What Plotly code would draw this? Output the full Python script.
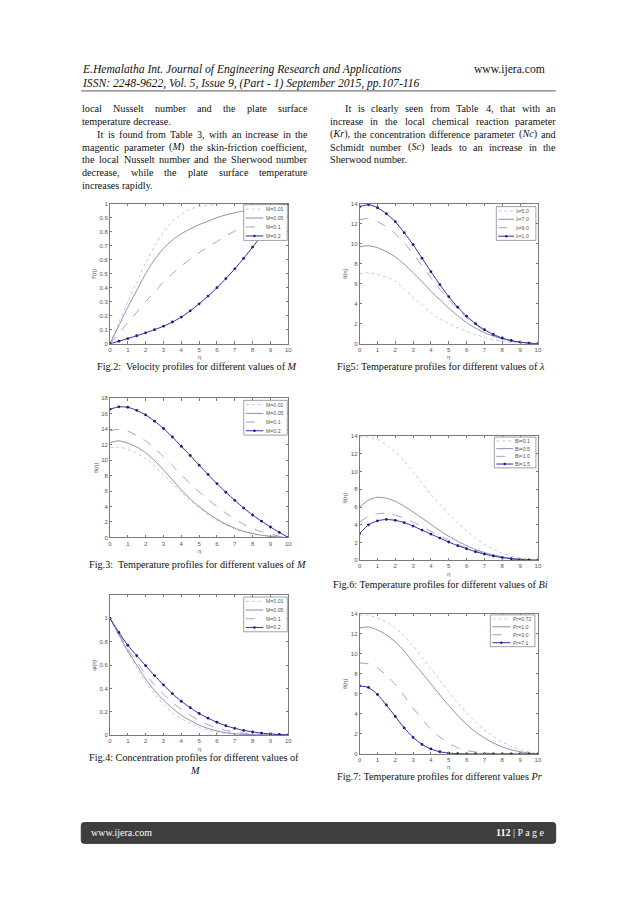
import plotly.graph_objects as go

W, H = 638, 902

# ---------------- data ----------------
ETA = [0, 0.5, 1, 1.5, 2, 2.5, 3, 3.5, 4, 4.5, 5, 5.5, 6, 6.5, 7, 7.5, 8, 8.5, 9, 9.5, 10]
X_TICKS = [0, 1, 2, 3, 4, 5, 6, 7, 8, 9, 10]

# Fig.2 velocity f'(eta), M
FIG2_LABELS = ["M=0.01", "M=0.05", "M=0.1", "M=0.2"]
F_M001 = [0, 0.155, 0.30, 0.44, 0.575, 0.695, 0.80, 0.875, 0.925, 0.96, 0.98, 0.99, 0.996, 1, 1, 1, 1, 1, 1, 1, 1]
F_M005 = [0, 0.13, 0.26, 0.38, 0.50, 0.60, 0.68, 0.74, 0.785, 0.82, 0.85, 0.875, 0.90, 0.92, 0.935, 0.948, 0.96, 0.97, 0.98, 0.99, 1.0]
F_M01 = [0, 0.075, 0.15, 0.225, 0.30, 0.37, 0.44, 0.50, 0.555, 0.605, 0.65, 0.69, 0.73, 0.77, 0.805, 0.84, 0.87, 0.90, 0.93, 0.96, 0.99]
F_M02 = [0, 0.018, 0.037, 0.057, 0.078, 0.10, 0.125, 0.155, 0.19, 0.235, 0.285, 0.34, 0.40, 0.465, 0.535, 0.61, 0.69, 0.77, 0.845, 0.92, 1.0]
FIG2_YTICKS = [0, 0.1, 0.2, 0.3, 0.4, 0.5, 0.6, 0.7, 0.8, 0.9, 1]

# Fig5 temperature theta(eta), lambda
FIG5_LABELS = ["λ=5.0", "λ=7.0", "λ=9.0", "λ=1.0"]
T_L5 = [7.0, 7.1, 6.95, 6.65, 6.25, 5.5, 4.65, 3.85, 3.1, 2.5, 2.0, 1.6, 1.25, 0.92, 0.65, 0.42, 0.25, 0.13, 0.06, 0.02, 0]
T_L7 = [9.7, 9.8, 9.6, 9.2, 8.7, 7.95, 7.1, 6.2, 5.25, 4.4, 3.55, 2.8, 2.1, 1.55, 1.1, 0.75, 0.48, 0.28, 0.14, 0.05, 0]
T_L9 = [12.4, 12.5, 12.2, 11.7, 11.0, 10.1, 9.0, 7.8, 6.6, 5.45, 4.4, 3.45, 2.6, 1.9, 1.3, 0.85, 0.52, 0.30, 0.15, 0.05, 0]
T_L1 = [13.7, 13.9, 13.6, 13.0, 12.2, 11.1, 9.9, 8.55, 7.2, 5.9, 4.7, 3.65, 2.75, 2.0, 1.4, 0.92, 0.57, 0.32, 0.16, 0.06, 0]
FIG5_YTICKS = [0, 2, 4, 6, 8, 10, 12, 14]

# Fig.3 temperature theta(eta), M
FIG3_LABELS = ["M=0.01", "M=0.05", "M=0.1", "M=0.2"]
T_M001 = [11.6, 11.7, 11.4, 10.9, 10.2, 9.25, 8.1, 6.95, 5.8, 4.75, 3.8, 2.95, 2.2, 1.6, 1.1, 0.72, 0.45, 0.25, 0.12, 0.04, 0]
T_M005 = [12.3, 12.5, 12.2, 11.7, 10.95, 9.95, 8.75, 7.45, 6.15, 5.0, 4.0, 3.1, 2.35, 1.72, 1.2, 0.8, 0.5, 0.28, 0.14, 0.05, 0]
T_M01 = [13.8, 14.0, 13.75, 13.2, 12.5, 11.55, 10.45, 9.3, 8.1, 6.95, 5.9, 4.9, 4.0, 3.15, 2.35, 1.7, 1.15, 0.72, 0.40, 0.16, 0]
T_M02 = [16.6, 16.9, 16.85, 16.45, 15.85, 15.05, 14.1, 13.0, 11.8, 10.6, 9.35, 8.15, 6.95, 5.85, 4.8, 3.8, 2.9, 2.1, 1.35, 0.65, 0]
FIG3_YTICKS = [0, 2, 4, 6, 8, 10, 12, 14, 16, 18]

# Fig.6 temperature theta(eta), Bi
FIG6_LABELS = ["Bi=0.1", "Bi=0.5", "Bi=1.0", "Bi=1.5"]
T_B01 = [13.9, 13.9, 13.6, 13.0, 12.2, 11.2, 9.95, 8.7, 7.4, 6.3, 5.2, 4.2, 3.3, 2.5, 1.8, 1.25, 0.8, 0.48, 0.25, 0.10, 0]
T_B05 = [6.0, 6.8, 7.1, 7.0, 6.65, 6.1, 5.45, 4.75, 4.05, 3.35, 2.7, 2.15, 1.65, 1.22, 0.87, 0.60, 0.38, 0.22, 0.11, 0.04, 0]
T_B10 = [4.3, 4.95, 5.25, 5.3, 5.1, 4.75, 4.3, 3.8, 3.25, 2.75, 2.25, 1.8, 1.4, 1.05, 0.75, 0.50, 0.32, 0.18, 0.09, 0.03, 0]
T_B15 = [3.0, 4.0, 4.45, 4.6, 4.5, 4.25, 3.85, 3.4, 2.95, 2.5, 2.05, 1.65, 1.3, 0.97, 0.70, 0.48, 0.30, 0.17, 0.08, 0.03, 0]
FIG6_YTICKS = [0, 2, 4, 6, 8, 10, 12, 14]

# Fig.4 concentration phi(eta), M
FIG4_LABELS = ["M=0.01", "M=0.05", "M=0.1", "M=0.2"]
C_M001 = [1.0, 0.85, 0.71, 0.575, 0.45, 0.35, 0.26, 0.19, 0.14, 0.10, 0.065, 0.042, 0.025, 0.014, 0.008, 0.004, 0.002, 0.001, 0, 0, 0]
C_M005 = [1.0, 0.86, 0.72, 0.60, 0.48, 0.38, 0.30, 0.23, 0.17, 0.125, 0.085, 0.057, 0.035, 0.021, 0.012, 0.007, 0.004, 0.002, 0.001, 0, 0]
C_M01 = [1.0, 0.87, 0.74, 0.63, 0.52, 0.43, 0.35, 0.28, 0.22, 0.17, 0.125, 0.09, 0.06, 0.04, 0.025, 0.016, 0.01, 0.006, 0.003, 0.001, 0]
C_M02 = [1.0, 0.88, 0.77, 0.68, 0.595, 0.51, 0.43, 0.355, 0.29, 0.235, 0.185, 0.145, 0.11, 0.08, 0.058, 0.04, 0.027, 0.017, 0.01, 0.005, 0.002]
FIG4_YTICKS = [0, 0.2, 0.4, 0.6, 0.8, 1]

# Fig.7 temperature theta(eta), Pr
FIG7_LABELS = ["Pr=0.72", "Pr=1.0", "Pr=3.0", "Pr=7.1"]
T_P072 = [13.9, 13.85, 13.6, 13.2, 12.6, 11.8, 10.8, 9.7, 8.5, 7.35, 6.2, 5.1, 4.1, 3.2, 2.4, 1.75, 1.2, 0.78, 0.45, 0.20, 0]
T_P1 = [12.6, 12.7, 12.4, 11.9, 11.2, 10.3, 9.15, 8.1, 7.0, 5.9, 4.85, 3.85, 2.95, 2.2, 1.6, 1.1, 0.70, 0.42, 0.22, 0.09, 0]
T_P3 = [9.1, 9.0, 8.6, 7.9, 6.95, 5.8, 4.6, 3.5, 2.45, 1.7, 1.05, 0.62, 0.35, 0.19, 0.10, 0.05, 0.02, 0.01, 0, 0, 0]
T_P71 = [6.8, 6.65, 5.95, 4.9, 3.75, 2.6, 1.65, 0.95, 0.5, 0.22, 0.09, 0.03, 0.01, 0, 0, 0, 0, 0, 0, 0, 0]
FIG7_YTICKS = [0, 2, 4, 6, 8, 10, 12, 14]

# ---------------- styling ----------------
SERIF = "Liberation Serif, Times New Roman, serif"
SANS = "Liberation Sans, Arial, sans-serif"
C1, C2, C3, C4 = "#c3c6dc", "#8a8eb6", "#9ea1bf", "#2a30a8"
MK = "#1a1f7a"
STYLES = [
    dict(color=C1, dash="dot", width=1.0, markers=False),
    dict(color=C2, dash="solid", width=1.0, markers=False),
    dict(color=C3, dash="dash", width=1.0, markers=False),
    dict(color=C4, dash="solid", width=1.0, markers=True),
]


def px(x):
    return x / W


def py(y):
    return 1 - y / H


PANELS = [
    dict(dom=(109, 289, 202, 343), yr=[0, 1], yt=FIG2_YTICKS, ytitle="f'(η)",
         series=[F_M001, F_M005, F_M01, F_M02], labels=FIG2_LABELS, leg=(244, 203, 288, 239)),
    dict(dom=(361, 541, 202, 343), yr=[0, 14], yt=FIG5_YTICKS, ytitle="θ(η)",
         series=[T_L5, T_L7, T_L9, T_L1], labels=FIG5_LABELS, leg=(499, 205, 539, 239)),
    dict(dom=(109, 289, 398, 538), yr=[0, 18], yt=FIG3_YTICKS, ytitle="θ(η)",
         series=[T_M001, T_M005, T_M01, T_M02], labels=FIG3_LABELS, leg=(244, 400, 288, 435)),
    dict(dom=(361, 541, 436, 561), yr=[0, 14], yt=FIG6_YTICKS, ytitle="θ(η)",
         series=[T_B01, T_B05, T_B10, T_B15], labels=FIG6_LABELS, leg=(497, 437, 539, 468)),
    dict(dom=(109, 289, 596, 737), yr=[0, 1.2], yt=FIG4_YTICKS, ytitle="φ(η)",
         series=[C_M001, C_M005, C_M01, C_M02], labels=FIG4_LABELS, leg=(244, 598, 288, 633)),
    dict(dom=(361, 541, 615, 756), yr=[0, 14], yt=FIG7_YTICKS, ytitle="θ(η)",
         series=[T_P072, T_P1, T_P3, T_P71], labels=FIG7_LABELS, leg=(493, 616, 538, 648)),
]

fig = go.Figure()
shapes = []
annotations = []
layout_axes = {}

for k, p in enumerate(PANELS, start=1):
    xs = "" if k == 1 else str(k)
    x0, x1, y0, y1 = p["dom"]
    for vals, lab, st in zip(p["series"], p["labels"], STYLES):
        fig.add_trace(go.Scatter(
            x=ETA, y=vals, name=lab, xaxis="x" + xs, yaxis="y" + xs,
            mode="lines+markers" if st["markers"] else "lines",
            line=dict(color=st["color"], dash=st["dash"], width=st["width"], shape="spline", smoothing=0.6),
            marker=dict(size=2.8, color=MK),
            showlegend=False, cliponaxis=True,
        ))
    common = dict(showline=True, linecolor="#7a7a7a", linewidth=0.8, mirror="ticks",
                  ticks="inside", ticklen=2.5, tickwidth=0.7, tickcolor="#7a7a7a",
                  showgrid=False, zeroline=False,
                  tickfont=dict(family=SANS, size=6, color="#555"))
    layout_axes["xaxis" + xs] = dict(common, domain=[px(x0), px(x1)], range=[0, 10],
                                     tickvals=X_TICKS, anchor="y" + xs)
    layout_axes["yaxis" + xs] = dict(common, domain=[py(y1), py(y0)], range=p["yr"],
                                     tickvals=p["yt"], anchor="x" + xs,
                                     title=dict(text=p["ytitle"], font=dict(family=SANS, size=6, color="#555"), standoff=2))
    # x-axis title (eta) just under the tick labels
    annotations.append(dict(text="η", x=px((x0 + x1) / 2), y=py(y1 + 13.5), xref="paper", yref="paper",
                            xanchor="center", yanchor="middle", showarrow=False, borderpad=0,
                            font=dict(family=SANS, size=6, color="#555")))
    # matlab-style legend box
    lx0, ly0, lx1, ly1 = p["leg"]
    shapes.append(dict(type="rect", xref="paper", yref="paper", x0=px(lx0), x1=px(lx1), y0=py(ly1), y1=py(ly0),
                       line=dict(color="#777", width=0.7), fillcolor="white", layer="above"))
    rowh = (ly1 - ly0) / 4
    lw = lx1 - lx0
    for i, (lab, st) in enumerate(zip(p["labels"], STYLES)):
        yc = ly0 + (i + 0.5) * rowh
        sx0, sx1 = lx0 + 2, lx0 + 0.45 * lw
        shapes.append(dict(type="line", xref="paper", yref="paper", x0=px(sx0), x1=px(sx1), y0=py(yc), y1=py(yc),
                           line=dict(color=st["color"], dash=st["dash"], width=st["width"]), layer="above"))
        if st["markers"]:
            mx = (sx0 + sx1) / 2
            shapes.append(dict(type="circle", xref="paper", yref="paper", x0=px(mx - 1.2), x1=px(mx + 1.2),
                               y0=py(yc + 1.2), y1=py(yc - 1.2), fillcolor=MK, line=dict(width=0),
                               layer="above"))
        annotations.append(dict(text=lab, x=px(lx0 + 0.48 * lw), y=py(yc), xref="paper", yref="paper",
                                xanchor="left", yanchor="middle", showarrow=False, borderpad=0,
                                font=dict(family=SANS, size=5.2, color="#555")))

# ---------------- page text ----------------
TW = {
    'a': 444, 'b': 500, 'c': 444, 'd': 500, 'e': 444, 'f': 333, 'g': 500, 'h': 500, 'i': 278, 'j': 278,
    'k': 500, 'l': 278, 'm': 778, 'n': 500, 'o': 500, 'p': 500, 'q': 500, 'r': 333, 's': 389, 't': 278,
    'u': 500, 'v': 500, 'w': 722, 'x': 500, 'y': 500, 'z': 444,
    'A': 722, 'B': 667, 'C': 667, 'D': 722, 'E': 611, 'F': 556, 'G': 722, 'H': 722, 'I': 333, 'J': 389,
    'K': 722, 'L': 611, 'M': 889, 'N': 722, 'O': 722, 'P': 556, 'Q': 722, 'R': 667, 'S': 556, 'T': 611,
    'U': 722, 'V': 722, 'W': 944, 'X': 722, 'Y': 722, 'Z': 611,
    ' ': 250, ',': 250, '.': 250, '(': 333, ')': 333, '-': 333, ':': 278,
}


def text_width(s, size):
    s = s.replace("<i>", "").replace("</i>", "")
    return sum(TW.get(c, 500) for c in s) / 1000 * size


def add_text(s, x, y, size, anchor="left", color="#111", family=SERIF):
    annotations.append(dict(text=s, x=px(x), y=py(y), xref="paper", yref="paper", xanchor=anchor,
                            yanchor="middle", showarrow=False, borderpad=0,
                            font=dict(family=family, size=size, color=color)))


def justify(line, left, right, y, size):
    words = line.split(" ")
    widths = [text_width(w, size) for w in words]
    gap = (right - left - sum(widths)) / (len(words) - 1)
    x = left
    for w, wd in zip(words, widths):
        add_text(w, x, y, size)
        x += wd + gap


BODY = 10.2
# header
add_text("<i>E.Hemalatha Int. Journal of Engineering Research and Applications</i>", 80, 67, 11.6)
add_text("www.ijera.com", 549, 67, 11.6, anchor="right")
add_text("<i>ISSN: 2248-9622, Vol. 5, Issue 9, (Part - 1) September 2015, pp.107-116</i>", 80, 81, 11.6)
shapes.append(dict(type="line", xref="paper", yref="paper", x0=px(80), x1=px(559), y0=py(88.5), y1=py(88.5),
                   line=dict(color="#555", width=1)))

# left column
justify("local Nusselt number and the plate surface", 80, 307, 106, BODY)
add_text("temperature decrease.", 80, 119, BODY)
justify("It is found from Table 3, with an increase in the", 95, 307, 132, BODY)
justify("magentic parameter (<i>M</i>) the skin-friction coefficient,", 80, 307, 145, BODY)
justify("the local Nusselt number and the Sherwood number", 80, 307, 158, BODY)
justify("decrease, while the plate surface temperature", 80, 307, 171, BODY)
add_text("increases rapidly.", 80, 184, BODY)

# right column
justify("It is clearly seen from Table 4, that with an", 345, 558, 106, BODY)
justify("increase in the local chemical reaction parameter", 330, 558, 119, BODY)
justify("(<i>Kr</i>), the concentration difference parameter (<i>Nc</i>) and", 330, 558, 132, BODY)
justify("Schmidt number (<i>Sc</i>) leads to an increase in the", 330, 558, 145, BODY)
add_text("Sherwood number.", 330, 158, BODY)

# captions
CAP = 10.2
add_text("Fig.2:&nbsp; Velocity profiles for different values of <i>M</i>", 197, 366, CAP, anchor="center")
add_text("Fig5: Temperature profiles for different values of <i>λ</i>", 443, 366, CAP, anchor="center")
add_text("Fig.3:&nbsp; Temperature profiles for different values of <i>M</i>", 197, 565, CAP, anchor="center")
add_text("Fig.6: Temperature profiles for different values of <i>Bi</i>", 443, 585, CAP, anchor="center")
add_text("Fig.4: Concentration profiles for different values of", 194, 760, CAP, anchor="center")
add_text("<i>M</i>", 195, 773, CAP, anchor="center")
add_text("Fig.7: Temperature profiles for different values <i>Pr</i>", 442, 779, CAP, anchor="center")

# footer bar with rounded corners
fx0, fx1, fy0, fy1, r = 80, 559, 825, 846, 3
pts = [("M", fx0 + r, fy0), ("L", fx1 - r, fy0), ("Q", fx1, fy0, fx1, fy0 + r), ("L", fx1, fy1 - r),
       ("Q", fx1, fy1, fx1 - r, fy1), ("L", fx0 + r, fy1), ("Q", fx0, fy1, fx0, fy1 - r), ("L", fx0, fy0 + r),
       ("Q", fx0, fy0, fx0 + r, fy0)]
path = ""
for seg in pts:
    cmd, coords = seg[0], seg[1:]
    pairs = " ".join(f"{px(coords[i]):.5f},{py(coords[i + 1]):.5f}" for i in range(0, len(coords), 2))
    path += f"{cmd} {pairs} "
path += "Z"
shapes.append(dict(type="path", path=path, xref="paper", yref="paper", fillcolor="#3e3e3e",
                   line=dict(color="#2a2a2a", width=0.8)))
add_text("www.ijera.com", 89, 835.5, 10, color="white")
add_text("<b>112</b> | P a g e", 549, 835.5, 10, anchor="right", color="white")

fig.update_layout(
    width=W, height=H, margin=dict(l=0, r=0, t=0, b=0),
    paper_bgcolor="white", plot_bgcolor="rgba(0,0,0,0)",
    showlegend=False, shapes=shapes, annotations=annotations,
    **layout_axes,
)

fig.write_html("out.html", config={"displayModeBar": False},
               post_script="document.body.style.margin='0px';")
